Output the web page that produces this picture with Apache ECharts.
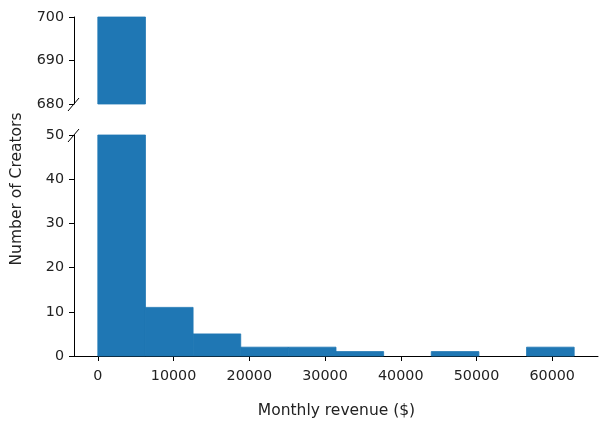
<!DOCTYPE html>
<html><head><meta charset="utf-8">
<script src="https://cdn.jsdelivr.net/npm/echarts@6/dist/echarts.min.js"></script>
<style>html,body{margin:0;padding:0;background:#fff}#c{width:613px;height:430px}</style>
</head><body><div id="c"></div>
<script>
// Histogram bins (monthly revenue, $) and counts of creators
const binStarts = [0, 6290, 12580, 18870, 25160, 31450, 37740, 44030, 50320, 56610];
const binEnds   = [6290, 12580, 18870, 25160, 31450, 37740, 44030, 50320, 56610, 62900];
const counts    = [700, 11, 5, 2, 2, 1, 0, 1, 0, 2];
const xTicks    = [0, 10000, 20000, 30000, 40000, 50000, 60000];
const xTitle = 'Monthly revenue ($)';
const yTitle = 'Number of Creators';

const data = binStarts.map((s, i) => [s, binEnds[i], counts[i]]);
const FONT = 'DejaVu Sans';
const TXT = '#222';

function renderBar(params, api) {
  const x0 = api.value(0), x1 = api.value(1), v = api.value(2);
  if (v <= 0) return;
  const p0 = api.coord([x0, 0]);
  const p1 = api.coord([x1, v]);
  const rect = {x: p0[0], y: p1[1], width: p1[0] - p0[0], height: p0[1] - p1[1]};
  const cs = params.coordSys;
  const c = echarts.graphic.clipRectByRect(rect, {x: cs.x, y: cs.y, width: cs.width, height: cs.height});
  if (!c) return;
  return {type: 'rect', shape: c, style: {fill: '#1f77b4', stroke: '#1f77b4', lineWidth: 0.8}};
}

const axisLine = {show: true, onZero: false, lineStyle: {color: '#000', width: 1}};
const axisTick = {show: true, length: 5, lineStyle: {color: '#000', width: 1}};
const axisLabel = {color: TXT, fontSize: 14.3, fontFamily: FONT, margin: 10};

const L = 74, W = 524;
const option = {
  animation: false,
  backgroundColor: '#fff',
  grid: [
    {left: L, top: 17, width: W, height: 87},
    {left: L, top: 135, width: W, height: 221}
  ],
  xAxis: [
    {gridIndex: 0, type: 'value', min: -3145, max: 66045, show: false},
    {gridIndex: 1, type: 'value', min: -3145, max: 66045,
     axisLine: axisLine,
     axisTick: Object.assign({customValues: xTicks}, axisTick),
     axisLabel: Object.assign({}, axisLabel, {customValues: xTicks, margin: 13, formatter: v => String(v)}),
     splitLine: {show: false}}
  ],
  yAxis: [
    {gridIndex: 0, type: 'value', min: 680, max: 700, interval: 10,
     axisLine: axisLine, axisTick: axisTick, axisLabel: axisLabel, splitLine: {show: false}},
    {gridIndex: 1, type: 'value', min: 0, max: 50, interval: 10,
     axisLine: axisLine, axisTick: axisTick, axisLabel: axisLabel, splitLine: {show: false}}
  ],
  series: [
    {type: 'custom', xAxisIndex: 0, yAxisIndex: 0, renderItem: renderBar, data: data.slice(0, 1)},
    {type: 'custom', xAxisIndex: 1, yAxisIndex: 1, renderItem: renderBar, data: data}
  ],
  graphic: [
    {type: 'line', shape: {x1: L - 6, y1: 104 + 7, x2: L + 5, y2: 104 - 6}, style: {stroke: '#000', lineWidth: 1}, z: 100},
    {type: 'line', shape: {x1: L - 6, y1: 135 + 7, x2: L + 5, y2: 135 - 6}, style: {stroke: '#000', lineWidth: 1}, z: 100},
    {type: 'text', x: 17, y: 189, rotation: Math.PI / 2,
     style: {text: yTitle, fill: TXT, font: '15.5px "DejaVu Sans"', textAlign: 'center', textVerticalAlign: 'middle'}},
    {type: 'text', x: 336.5, y: 411,
     style: {text: xTitle, fill: TXT, font: '15.5px "DejaVu Sans"', textAlign: 'center', textVerticalAlign: 'middle'}}
  ]
};
const chart = echarts.init(document.getElementById('c'), null, {renderer: 'canvas'});
chart.setOption(option);
</script></body></html>
